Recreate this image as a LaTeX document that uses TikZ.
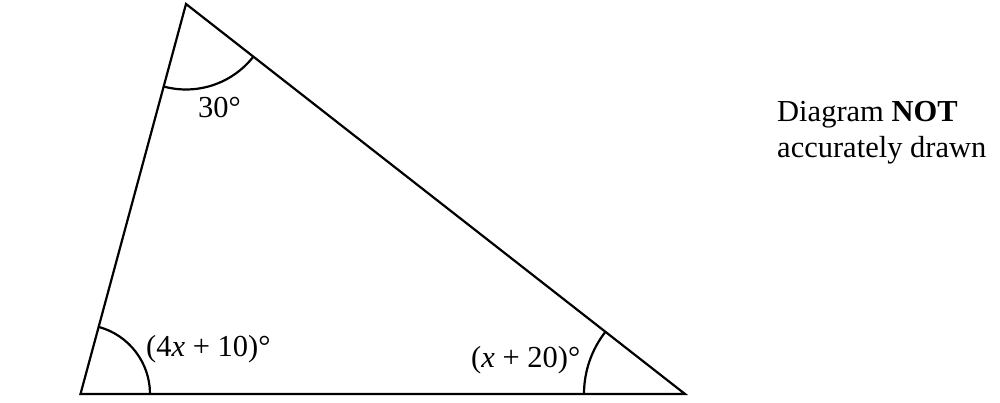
\documentclass[tikz,border=0pt]{standalone}
\usepackage{fontspec}
\setmainfont{Liberation Serif}
\usetikzlibrary{angles}
\begin{document}
\begin{tikzpicture}[x=1pt,y=1pt,
  edge/.style={line width=2.2pt},
  arcmark/.style={draw,line width=2.2pt},
  lbl/.style={inner sep=0pt,anchor=base west,font=\fontsize{30.5}{30.5}\selectfont}]
\useasboundingbox (0,0) rectangle (1000,403);
\coordinate (A) at (80.5,9);
\coordinate (B) at (685,9);
\coordinate (C) at (186,399);
\draw[edge] (A) -- (B) -- (C) -- cycle;
\pic[arcmark,angle radius=69.5pt] {angle = B--A--C};
\pic[arcmark,angle radius=101pt] {angle = C--B--A};
\pic[arcmark,angle radius=85.5pt] {angle = A--C--B};
\node[lbl] (t1) at (198,285.7) {30°};
\node[lbl] (t2) at (146,46) {(4\textit{x} + 10)°};
\node[lbl] (t3) at (471,35) {(\textit{x} + 20)°};
\node[lbl] (t4) at (777,281.5) {Diagram \textbf{NOT}};
\node[lbl] (t5) at (777,245) {accurately drawn};
\end{tikzpicture}
\end{document}
